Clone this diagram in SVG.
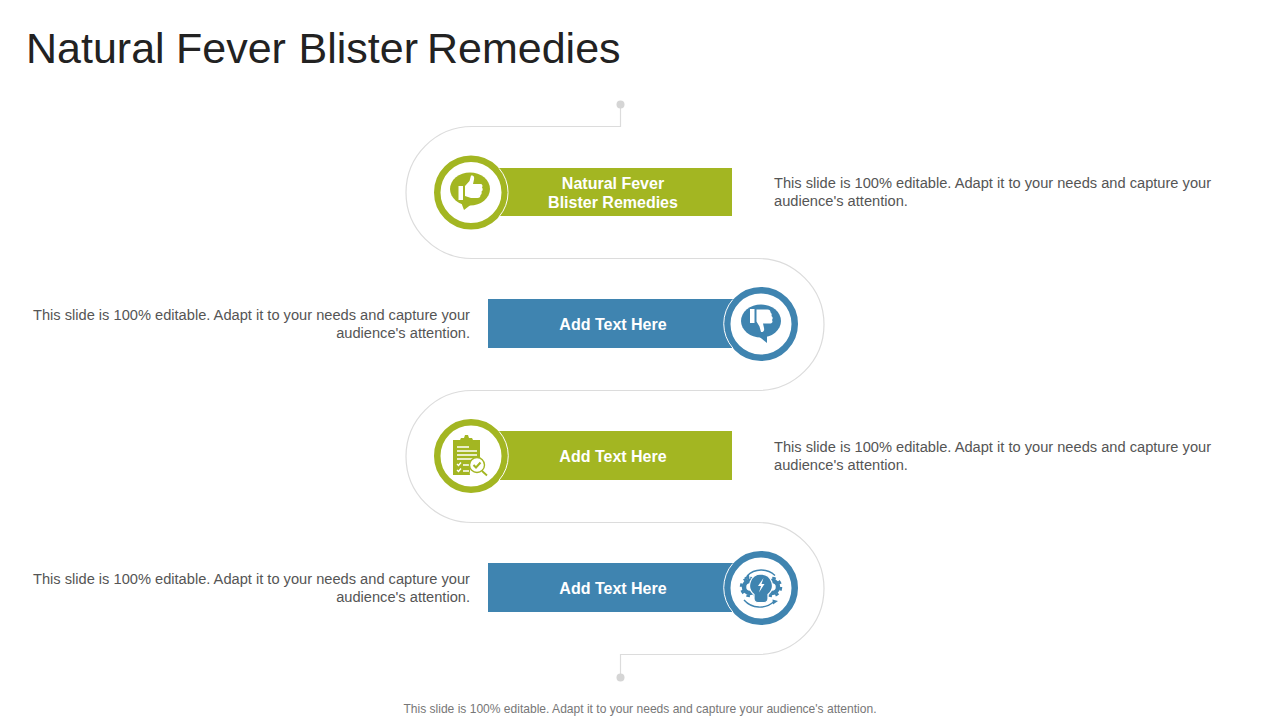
<svg xmlns="http://www.w3.org/2000/svg" width="1280" height="720" viewBox="0 0 1280 720">
<style>
text{font-family:"Liberation Sans",Arial,sans-serif}
.title{font-size:43px;fill:#222}
.lab{font-size:16px;font-weight:bold;fill:#fff;text-anchor:middle}
.desc{font-size:14.65px;fill:#555}
.r{text-anchor:end}
.foot{font-size:12.05px;fill:#777;text-anchor:middle}
.wire{fill:none;stroke:#dcdcdc;stroke-width:1.2}
.dot{fill:#d5d5d5}
.g{fill:#a3b622}
.b{fill:#3f84b0}
.gs{fill:#fff;stroke:#a3b622;stroke-width:6.500}
.bs{fill:#fff;stroke:#3f84b0;stroke-width:6.500}
.halo{fill:none;stroke:#fff;stroke-width:1}
.w{fill:#fff}
.wl{fill:none;stroke:#fff;stroke-width:1.4}
</style>
<rect width="1280" height="720" fill="#fff"/>
<text class="title" y="63"><tspan x="26">Natural</tspan><tspan x="176">Fever</tspan><tspan x="298.500">Blister</tspan><tspan x="427">Remedies</tspan></text>
<g id="connectors">
<path class="wire" d="M620.500 104V126.500H472A66 66 0 0 0 472 258.500H758A66 66 0 0 1 758 390.500H472A66 66 0 0 0 472 522.500H758A66 66 0 0 1 758 654.500H620.500V677"/>
<circle class="dot" cx="620.500" cy="104.500" r="4"/>
<circle class="dot" cx="620.500" cy="677.500" r="4"/>
</g>
<g id="node-1">
<rect class="g" x="490" y="168" width="242" height="48"/>
<circle class="gs" cx="471" cy="192.500" r="33.750"/>
<path class="halo" d="M499.200 168.500A37 37 0 0 1 499.200 216.500"/>
<g class="g">
<ellipse cx="470" cy="189" rx="20" ry="16.500"/>
<path d="M461 202L464 210L473 203Z"/>
</g>
<path class="w" d="M458.500 186h4.500v14h-4.500zM465 186l4.500-5 1.500-5.500c3-.5 3.500 2 3 4l-1 4.500h7.500c2 0 2.500 2 1.500 3.500 1 1.500 1 3-.5 4 .5 1.500 0 3-1 3.500 0 2-1 3-3 3H471l-6-2z"/>
<text class="lab" x="613" y="189">Natural Fever</text>
<text class="lab" x="613" y="208">Blister Remedies</text>
<text class="desc" x="774" y="188">This slide is 100% editable. Adapt it to your needs and capture your</text>
<text class="desc" x="774" y="206">audience's attention.</text>
</g>
<g id="node-2">
<rect class="b" x="488" y="299" width="247" height="49"/>
<circle class="bs" cx="761" cy="324" r="33.750"/>
<path class="halo" d="M732.800 299.500A37 37 0 0 0 732.800 348"/>
<g class="b">
<ellipse cx="761" cy="321" rx="20" ry="16.500"/>
<path d="M757 335L767 343L767 333Z"/>
</g>
<path class="w" d="M750 309h4.500v14h-4.500zM756.500 309.500h11c2 0 3 1 3 3 1 .5 1.500 2 1 3.500 1.500 1 1.500 2.500.5 4 1 1.500.5 3.500-1.500 3.500H763l1 4.500c.5 2 0 4.500-3 4l-1.500-5.500-3-5z"/>
<text class="lab" x="613" y="330">Add Text Here</text>
<text class="desc r" x="470" y="320">This slide is 100% editable. Adapt it to your needs and capture your</text>
<text class="desc r" x="470" y="338">audience's attention.</text>
</g>
<g id="node-3">
<rect class="g" x="490" y="431" width="242" height="49"/>
<circle class="gs" cx="471" cy="456" r="33.750"/>
<path class="halo" d="M499.200 431.500A37 37 0 0 1 499.200 480"/>
<path class="g" d="M453 440h7l1-2h3l1-3h3l1 3h3l1 2h7v23a10 10 0 0 0-10 12h-17z"/>
<g class="wl">
<path d="M457 447h12M457 451h20M457 455h20M457 459h16"/>
<path d="M457 464l1.500 1.500 2.500-3M457 470l1.500 1.500 2.500-3M463 465h6M463 471h6"/>
</g>
<circle cx="477" cy="465" r="7.500" fill="#fff" stroke="#a3b622" stroke-width="1.400"/>
<path d="M473.500 465l2.500 2.500 4.500-5" fill="none" stroke="#a3b622" stroke-width="2"/>
<path d="M482 471l5 4.500" fill="none" stroke="#a3b622" stroke-width="1.800"/>
<text class="lab" x="613" y="462">Add Text Here</text>
<text class="desc" x="774" y="452">This slide is 100% editable. Adapt it to your needs and capture your</text>
<text class="desc" x="774" y="470">audience's attention.</text>
</g>
<g id="node-4">
<rect class="b" x="488" y="563" width="247" height="49"/>
<circle class="bs" cx="761" cy="588" r="33.750"/>
<path class="halo" d="M732.800 563.500A37 37 0 0 0 732.800 612"/>
<g fill="none" stroke="#3f84b0">
<circle cx="750" cy="587" r="6" stroke-width="4.500"/>
<circle cx="772" cy="587" r="6" stroke-width="4.500"/>
<circle cx="750" cy="587" r="9" stroke-width="2.500" stroke-dasharray="3.500 3.570"/>
<circle cx="772" cy="587" r="9" stroke-width="2.500" stroke-dasharray="3.500 3.570"/>
</g>
<g class="b" stroke="#fff" stroke-width="1.200">
<path d="M761 574a11.500 11.500 0 0 1 7 20.500v4a4 4 0 0 1-4 4h-6a4 4 0 0 1-4-4v-4a11.500 11.500 0 0 1 7-20.500z"/>
</g>
<g class="b">
<path d="M744 578l5-3.500 .5 5zM778 601l-5 3.500-.5-5z"/>
</g>
<path class="w" d="M763.500 578l-5.500 8h3l-2 6.500 5.500-8.500h-3z"/>
<g fill="none" stroke="#3f84b0" stroke-width="1.400">
<path d="M747 576a20 20 0 0 1 28-.5M744 600a21 21 0 0 0 30 1.500"/>
</g>
<text class="lab" x="613" y="594">Add Text Here</text>
<text class="desc r" x="470" y="584">This slide is 100% editable. Adapt it to your needs and capture your</text>
<text class="desc r" x="470" y="602">audience's attention.</text>
</g>
<text class="foot" x="640" y="713">This slide is 100% editable. Adapt it to your needs and capture your audience's attention.</text>
</svg>
